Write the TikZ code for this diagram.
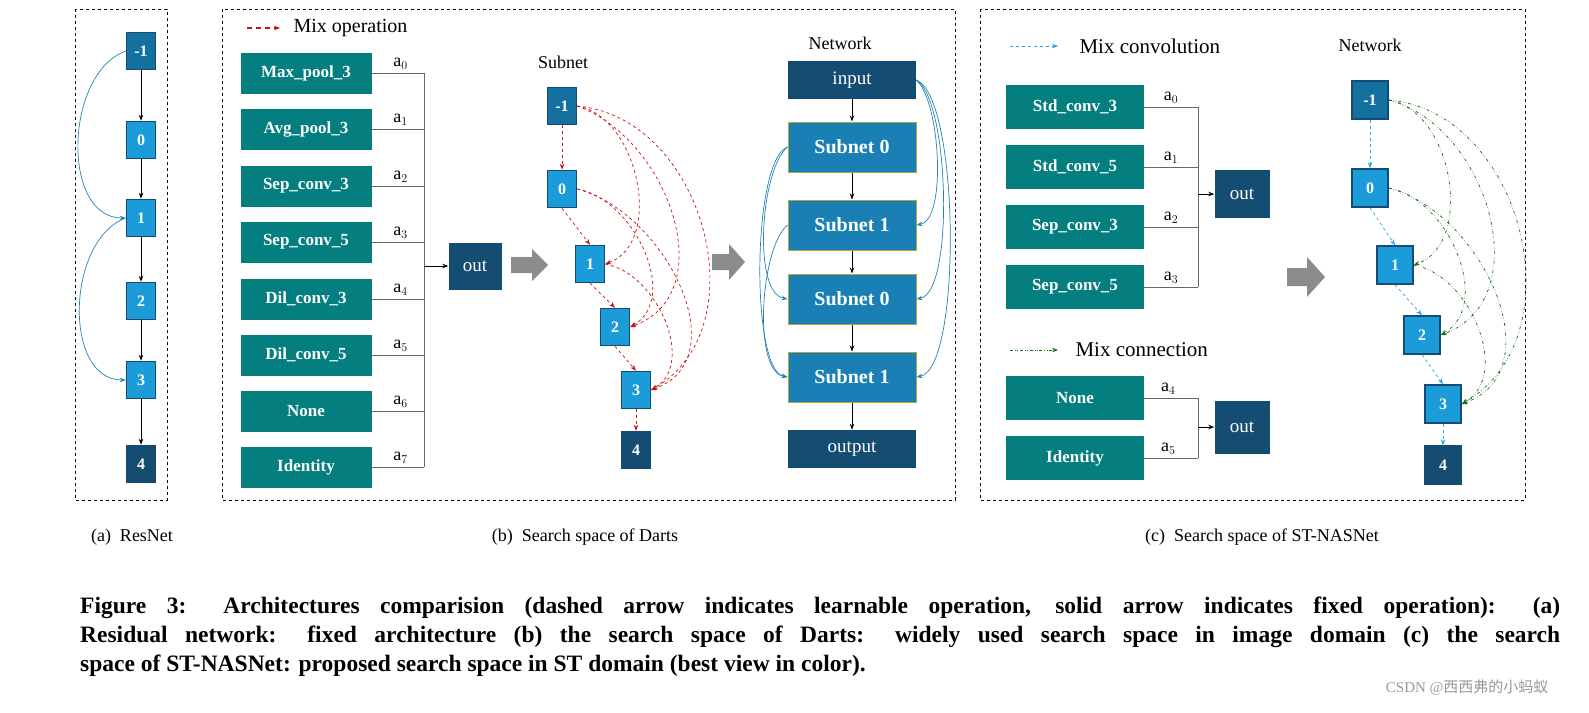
\documentclass[tikz,border=0pt]{standalone}
\usepackage{fontspec}
\setmainfont{Liberation Serif}
\newfontfamily\cjk{Noto Sans CJK SC}
\usetikzlibrary{arrows.meta}
\definecolor{opc}{HTML}{047E7E}
\definecolor{nodec}{HTML}{1B9BD7}
\definecolor{topc}{HTML}{14719F}
\definecolor{darkc}{HTML}{154C71}
\definecolor{subc}{HTML}{1A7FB5}
\definecolor{redc}{HTML}{CC1111}
\definecolor{grnc}{HTML}{1A6E1A}
\definecolor{lblue}{HTML}{2AA5E0}
\tikzset{
  op/.style={fill=opc, text=white, font=\fontsize{17}{19}\selectfont\bfseries, inner sep=0pt},
  cell/.style={fill=nodec, draw=darkc, line width=1.5pt, text=white, font=\fontsize{16}{18}\selectfont\bfseries, minimum width=29pt, minimum height=37pt, inner sep=0pt},
  top/.style={cell, fill=topc},
  last/.style={cell, fill=darkc},
  outb/.style={fill=darkc, text=white, font=\fontsize{19}{21}\selectfont, inner sep=0pt},
  sub/.style={fill=subc, draw=olive!70, line width=1pt, text=white, font=\fontsize{20}{22}\selectfont\bfseries, minimum width=128pt, minimum height=50pt, inner sep=0pt},
  frame/.style={dashed, line width=0.8pt},
  wire/.style={gray!80!black, line width=0.8pt},
  fix/.style={-{Stealth[length=6pt]}, line width=0.8pt},
  blu/.style={-{Stealth[length=6pt]}, lblue!80!black, line width=0.7pt},
  mixop/.style={-{Stealth[length=6pt]}, redc, dashed, line width=0.7pt},
  mixconv/.style={-{Stealth[length=6pt]}, lblue, dashed, line width=0.7pt},
  mixcon/.style={-{Stealth[length=6pt]}, grnc, dash dot dot, line width=0.7pt},
  bigarr/.style={fill=gray!90, draw=none},
  lab/.style={font=\fontsize{18}{20}\selectfont}
}
\begin{document}
\begin{tikzpicture}[x=1pt, y=-1pt]
\useasboundingbox (0,0) rectangle (1589,712);
% frames
\draw[frame] (75,9) rectangle (167,500);
\draw[frame] (222,9) rectangle (955,500);
\draw[frame] (980,9) rectangle (1525,500);

% (a) ResNet
\node[top] (ra) at (141,51) {-1};
\node[cell] (r0) at (141,140) {0};
\node[cell] (r1) at (141,218) {1};
\node[cell] (r2) at (141,301) {2};
\node[cell] (r3) at (141,380) {3};
\node[last] (r4) at (141,464) {4};
\draw[fix] (ra) -- (r0);
\draw[fix] (r0) -- (r1);
\draw[fix] (r1) -- (r2);
\draw[fix] (r2) -- (r3);
\draw[fix] (r3) -- (r4);
\draw[blu] (ra.west) to[out=200,in=180] (r1.west);
\draw[blu] (r1.west) to[out=200,in=180] (r3.west);

% (b) Darts: operations
\coordinate (lg0) at (247,28);
\coordinate (lg1) at (280,28);
\draw[mixop, line width=1.4pt, dash pattern=on 5pt off 4pt] (lg0) -- (lg1);
\node[lab, font=\fontsize{20}{22}\selectfont, anchor=west] (lgt) at (290,28) {Mix operation};
\coordinate (bus) at (424,266);
\foreach \name/\txt/\y [count=\i from 0] in {o0/Max\_pool\_3/73, o1/Avg\_pool\_3/129, o2/Sep\_conv\_3/186, o3/Sep\_conv\_5/242, o4/Dil\_conv\_3/299, o5/Dil\_conv\_5/355, o6/None/411, o7/Identity/467}{
  \node[op, minimum width=131pt, minimum height=41pt] (\name) at (306,\y) {\txt};
  \draw[wire] (\name.east) -- (424,\y) node[pos=0.55, above, black, lab] {a$_{\i}$};
}
\draw[wire] (424,73) -- (424,467);
\node[outb, minimum width=53pt, minimum height=47pt] (bout) at (475,266) {out};
\draw[fix] (bus) -- (bout);
\fill[bigarr] (511,257) -- (532,257) -- (532,249) -- (548,265) -- (532,281) -- (532,273) -- (511,273) -- cycle;

% (b) Darts: subnet
\node[lab] (subl) at (563,62) {Subnet};
\node[top] (sa) at (562,106) {-1};
\node[cell] (s0) at (562,189) {0};
\node[cell] (s1) at (590,264) {1};
\node[cell] (s2) at (615,327) {2};
\node[cell] (s3) at (636,390) {3};
\node[last] (s4) at (636,450) {4};
\draw[mixop] (sa) -- (s0);
\draw[mixop] (s0.south) -- (s1.north);
\draw[mixop] (s1.south) -- (s2.north);
\draw[mixop] (s2.south) -- (s3.north);
\draw[mixop] (s3) -- (s4);
\draw[mixop] (sa.east) to[out=-10,in=20] (s1.east);
\draw[mixop] (sa.east) to[out=-20,in=20,looseness=1.1] (s2.east);
\draw[mixop] (sa.east) to[out=-5,in=30,looseness=1.1] (s3.east);
\draw[mixop] (s0.east) to[out=-10,in=30] (s2.east);
\draw[mixop] (s0.east) to[out=-15,in=20,looseness=1.1] (s3.east);
\draw[mixop] (s1.east) to[out=-10,in=30] (s3.east);
\fill[bigarr] (712,254) -- (729,254) -- (729,244) -- (745,262) -- (729,280) -- (729,270) -- (712,270) -- cycle;

% (b) Darts: network
\node[lab] (netl) at (840,43) {Network};
\node[outb, minimum width=128pt, minimum height=38pt] (nin) at (852,80) {input};
\node[sub] (n0) at (852,147) {Subnet 0};
\node[sub] (n1) at (852,225) {Subnet 1};
\node[sub] (n2) at (852,299) {Subnet 0};
\node[sub] (n3) at (852,377) {Subnet 1};
\node[outb, minimum width=128pt, minimum height=38pt] (nout) at (852,449) {output};
\draw[fix] (nin) -- (n0);
\draw[fix] (n0) -- (n1);
\draw[fix] (n1) -- (n2);
\draw[fix] (n2) -- (n3);
\draw[fix] (n3) -- (nout);
\draw[blu] (nin.east) to[out=-40,in=10,looseness=0.55] (n1.east);
\draw[blu] (nin.east) to[out=-30,in=10,looseness=0.45] (n2.east);
\draw[blu] (nin.east) to[out=-20,in=10,looseness=0.4] (n3.east);
\draw[blu] (n0.west) to[out=220,in=170,looseness=0.6] (n2.west);
\draw[blu] (n0.west) to[out=200,in=170,looseness=0.42] (n3.west);
\draw[blu] (n1.west) to[out=220,in=170,looseness=0.6] (n3.west);

% (c) ST-NASNet: operations
\coordinate (lc0) at (1010,46);
\coordinate (lc1) at (1058,46);
\draw[mixconv] (lc0) -- (lc1);
\node[lab, font=\fontsize{21}{23}\selectfont, anchor=west] (lct) at (1076,46) {Mix convolution};
\coordinate (cbus) at (1198,194);
\foreach \name/\txt/\y [count=\i from 0] in {c0/Std\_conv\_3/107, c1/Std\_conv\_5/167, c2/Sep\_conv\_3/227, c3/Sep\_conv\_5/287}{
  \node[op, minimum width=138pt, minimum height=44pt] (\name) at (1075,\y) {\txt};
  \draw[wire] (\name.east) -- (1198,\y) node[pos=0.5, above, black, lab] {a$_{\i}$};
}
\draw[wire] (1198,107) -- (1198,287);
\node[outb, minimum width=55pt, minimum height=48pt] (cout) at (1242,194) {out};
\draw[fix] (cbus) -- (cout);
\coordinate (ld0) at (1010,350);
\coordinate (ld1) at (1058,350);
\draw[mixcon] (ld0) -- (ld1);
\node[lab, font=\fontsize{21}{23}\selectfont, anchor=west] (ldt) at (1072,350) {Mix connection};
\coordinate (dbus) at (1198,427);
\foreach \name/\txt/\y [count=\i from 4] in {d0/None/398, d1/Identity/458}{
  \node[op, minimum width=138pt, minimum height=44pt] (\name) at (1075,\y) {\txt};
  \draw[wire] (\name.east) -- (1198,\y) node[pos=0.45, above, black, lab] {a$_{\i}$};
}
\draw[wire] (1198,398) -- (1198,458);
\node[outb, minimum width=55pt, minimum height=53pt] (dout) at (1242,427) {out};
\draw[fix] (dbus) -- (dout);
\fill[bigarr] (1287,268) -- (1307,268) -- (1307,257) -- (1325,277) -- (1307,297) -- (1307,286) -- (1287,286) -- cycle;

% (c) ST-NASNet: network
\node[lab] (netc) at (1370,45) {Network};
\node[top, minimum width=36pt, minimum height=38pt] (ta) at (1370,100) {-1};
\node[cell, minimum width=36pt, minimum height=38pt] (t0) at (1370,188) {0};
\node[cell, minimum width=36pt, minimum height=38pt] (t1) at (1395,265) {1};
\node[cell, minimum width=36pt, minimum height=38pt] (t2) at (1422,335) {2};
\node[cell, minimum width=36pt, minimum height=38pt] (t3) at (1443,404) {3};
\node[last, minimum width=36pt, minimum height=38pt] (t4) at (1443,465) {4};
\draw[mixconv] (ta) -- (t0);
\draw[mixconv] (t0.south) -- (t1.north);
\draw[mixconv] (t1.south) -- (t2.north);
\draw[mixconv] (t2.south) -- (t3.north);
\draw[mixconv] (t3) -- (t4);
\draw[mixcon] (ta.east) to[out=-10,in=20] (t1.east);
\draw[mixcon] (ta.east) to[out=-15,in=20,looseness=1.1] (t2.east);
\draw[mixcon] (ta.east) to[out=-5,in=30,looseness=1.1] (t3.east);
\draw[mixcon] (t0.east) to[out=-10,in=30] (t2.east);
\draw[mixcon] (t0.east) to[out=-15,in=20,looseness=1.1] (t3.east);
\draw[mixcon] (t1.east) to[out=-10,in=30] (t3.east);

% captions
\node[lab] (capa) at (132,537) {(a)\ \ ResNet};
\node[lab] (capb) at (585,537) {(b)\ \ Search space of Darts};
\node[lab] (capc) at (1262,537) {(c)\ \ Search space of ST-NASNet};
\node[anchor=north west, text width=1480pt, align=justify, inner sep=0pt,
  font=\fontsize{23.5}{29}\selectfont\bfseries] (fig) at (80,597)
  {Figure 3: Architectures comparision (dashed arrow indicates learnable operation, solid arrow indicates fixed operation): (a)\linebreak
  Residual network: fixed architecture (b) the search space of Darts: widely used search space in image domain (c) the search\linebreak
  space of ST-NASNet: proposed search space in ST domain (best view in color).};
\node[anchor=east, text=gray!80, font=\fontsize{15}{17}\selectfont] (wm) at (1552,688) {CSDN @{\cjk 西西弗的小蚂蚁}};
\end{tikzpicture}
\end{document}
